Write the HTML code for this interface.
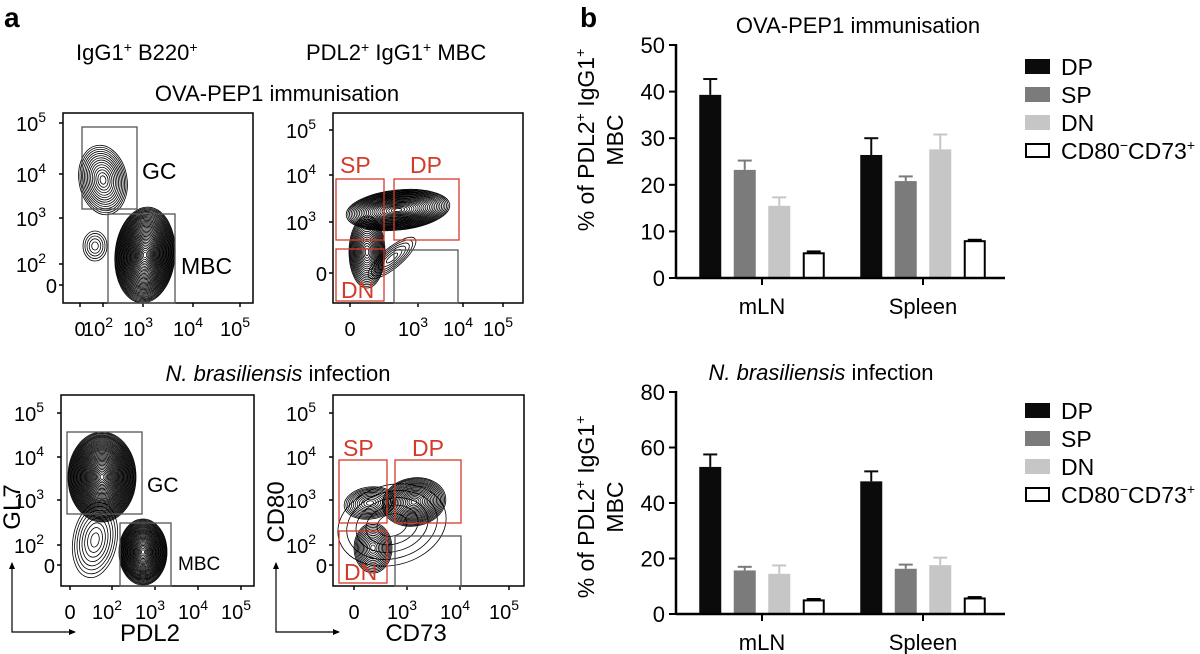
<!DOCTYPE html>
<html><head><meta charset="utf-8"><title>Figure</title>
<style>
html,body{margin:0;padding:0;background:#fff;}
svg{display:block;font-family:"Liberation Sans",Arial,sans-serif;}
</style></head>
<body>
<svg id="fig" width="1200" height="654" viewBox="0 0 1200 654" xmlns="http://www.w3.org/2000/svg">
  <text x="4" y="27" font-size="28" font-weight="bold">a</text>
  <text x="580" y="27" font-size="28" font-weight="bold">b</text>

  <text x="76" y="60" font-size="22">IgG1<tspan dy="-8" font-size="14">+</tspan><tspan dy="8"> B220</tspan><tspan dy="-8" font-size="14">+</tspan></text>
  <text x="306" y="60" font-size="22">PDL2<tspan dy="-8" font-size="14">+</tspan><tspan dy="8"> IgG1</tspan><tspan dy="-8" font-size="14">+</tspan><tspan dy="8"> MBC</tspan></text>
  <text x="277" y="101" font-size="22" text-anchor="middle">OVA-PEP1 immunisation</text>
  <text x="278" y="381" font-size="22" text-anchor="middle"><tspan font-style="italic">N. brasiliensis</tspan> infection</text>

  <g id="flow"></g>
  <g id="bars"></g>
</svg>
<script>
// ---------------- Bar chart data ----------------
const categories = ['mLN', 'Spleen'];
const seriesNames = ['DP', 'SP', 'DN', 'CD80−CD73+'];
const ovaDP = [39.3, 26.4];
const ovaSP = [23.2, 20.8];
const ovaDN = [15.5, 27.6];
const ovaCD = [5.3, 7.9];
const ovaErrDP = [3.4, 3.6];
const ovaErrSP = [2.0, 1.0];
const ovaErrDN = [1.8, 3.2];
const ovaErrCD = [0.4, 0.3];
const ovaTicks = [0, 10, 20, 30, 40, 50];
const nbDP = [53.0, 47.8];
const nbSP = [15.7, 16.3];
const nbDN = [14.5, 17.6];
const nbCD = [4.9, 5.6];
const nbErrDP = [4.5, 3.6];
const nbErrSP = [1.3, 1.5];
const nbErrDN = [3.0, 2.7];
const nbErrCD = [0.5, 0.5];
const nbTicks = [0, 20, 40, 60, 80];

const NS = 'http://www.w3.org/2000/svg';
function mk(tag, attrs, parent) {
  const e = document.createElementNS(NS, tag);
  for (const k in attrs) e.setAttribute(k, attrs[k]);
  parent.appendChild(e);
  return e;
}
const fills = ['#0b0b0b', '#7b7b7b', '#c6c6c6', '#ffffff'];
const barsG = document.getElementById('bars');

function barChart(opt) {
  const g = mk('g', {}, barsG);
  
  
  const x0 = 676, x1 = 1005;
  const yMax = opt.ticks[opt.ticks.length - 1];
  const yScale = v => opt.y0 - (v / yMax) * (opt.y0 - opt.yTop);
  const groupCenters = [762, 923];
  const xScale = (ci, si) => groupCenters[ci] + (si - 1.5) * 34.5;
  const bw = 22;
  const t = mk('text', {x: opt.titleX, y: opt.titleY, 'font-size': 22, 'text-anchor': 'middle'}, g);
  
  
  if (opt.italic) {
    const a = mk('tspan', {'font-style': 'italic'}, t); a.textContent = 'N. brasiliensis';
    const b = mk('tspan', {}, t); b.textContent = ' infection';
  } else t.textContent = opt.title;
  opt.values.forEach((arr, si) => {
    arr.forEach((v, ci) => {
      const cx = xScale(ci, si);
      const top = yScale(v), errTop = yScale(v + opt.errs[si][ci]);
      const col = si === 3 ? '#000' : fills[si];
      const eb = mk('g', {}, g);
      
      
      mk('line', {x1: cx, x2: cx, y1: top, y2: errTop, stroke: col, 'stroke-width': 2}, eb);
      mk('line', {x1: cx - 7, x2: cx + 7, y1: errTop, y2: errTop, stroke: col, 'stroke-width': 2}, eb);
      const r = mk('rect', {x: cx - bw / 2, y: top, width: bw, height: opt.y0 - top, fill: fills[si]}, g);
      if (si === 3) { r.setAttribute('stroke', '#000'); r.setAttribute('stroke-width', 2); r.setAttribute('x', cx - bw / 2 + 1); r.setAttribute('width', bw - 2); }
      
      
    });
  });
  const ax = mk('g', {}, g);
  
  
  mk('line', {x1: x0, x2: x0, y1: opt.yTop - 1, y2: opt.y0 + 1, stroke: '#000', 'stroke-width': 2.5}, ax);
  opt.ticks.forEach(v => {
    const y = yScale(v);
    mk('line', {x1: x0 - 7, x2: x0, y1: y, y2: y, stroke: '#000', 'stroke-width': 2}, ax);
    const tl = mk('text', {x: x0 - 11, y: y + 8, 'font-size': 22, 'text-anchor': 'end'}, ax);
    tl.textContent = v;
    
    
  });
  const xa = mk('g', {}, g);
  
  
  mk('line', {x1: x0, x2: x1, y1: opt.y0, y2: opt.y0, stroke: '#000', 'stroke-width': 2.5}, xa);
  categories.forEach((c, ci) => {
    mk('line', {x1: groupCenters[ci], x2: groupCenters[ci], y1: opt.y0, y2: opt.y0 + 7, stroke: '#000', 'stroke-width': 2}, xa);
    const cl = mk('text', {x: groupCenters[ci], y: opt.y0 + 36, 'font-size': 22, 'text-anchor': 'middle'}, xa);
    cl.textContent = c;
    
    
  });
  const yt = mk('text', {transform: 'translate(' + 594 + ',' + opt.ytY + ') rotate(-90)', 'font-size': 23, 'text-anchor': 'middle'}, g);
  
  
  const l1 = mk('tspan', {x: 0, y: 0}, yt); l1.textContent = '% of PDL2';
  const s1 = mk('tspan', {dy: -9, 'font-size': 14}, yt); s1.textContent = '+';
  const l1b = mk('tspan', {dy: 9}, yt); l1b.textContent = ' IgG1';
  const s2 = mk('tspan', {dy: -9, 'font-size': 14}, yt); s2.textContent = '+';
  const l2 = mk('tspan', {x: 0, y: 29}, yt); l2.textContent = 'MBC';
  const lg = mk('g', {}, g);
  
  
  seriesNames.forEach((s, si) => {
    const ly = opt.legY + si * 28;
    const le = mk('g', {}, lg);
    
    
    const sw = mk('rect', {x: si === 3 ? 1026 : 1025, y: ly + (si === 3 ? 1 : 0), width: si === 3 ? 23 : 25, height: si === 3 ? 13 : 15, fill: fills[si]}, le);
    if (si === 3) { sw.setAttribute('stroke', '#000'); sw.setAttribute('stroke-width', 2); }
    const tx = mk('text', {x: 1061, y: ly + 16, 'font-size': 23}, le);
    if (si === 3) {
      const a = mk('tspan', {}, tx); a.textContent = 'CD80';
      const b = mk('tspan', {dy: -9, 'font-size': 14}, tx); b.textContent = '−';
      const c = mk('tspan', {dy: 9}, tx); c.textContent = 'CD73';
      const d = mk('tspan', {dy: -9, 'font-size': 14}, tx); d.textContent = '+';
    } else tx.textContent = s;
  });
}
barChart({name: 'ova-bar-chart', title: 'OVA-PEP1 immunisation', titleX: 858, titleY: 33, y0: 278, yTop: 45,
  ticks: ovaTicks, values: [ovaDP, ovaSP, ovaDN, ovaCD], errs: [ovaErrDP, ovaErrSP, ovaErrDN, ovaErrCD], ytY: 140, legY: 59});
barChart({name: 'nb-bar-chart', italic: true, titleX: 821, titleY: 380, y0: 614, yTop: 392,
  ticks: nbTicks, values: [nbDP, nbSP, nbDN, nbCD], errs: [nbErrDP, nbErrSP, nbErrDN, nbErrCD], ytY: 507, legY: 403});

// ---------------- Flow plots ----------------
const flowG = document.getElementById('flow');
function sup(t, base, exp) {
  const a = mk('tspan', {}, t); a.textContent = base;
  if (exp) { const b = mk('tspan', {dy: -9, 'font-size': 14}, t); b.textContent = exp; }
}
function blob(g, cx, cy, rx, ry, n, rot) {
  for (let k = 1; k <= n; k++) {
    const f = Math.pow(k / n, 0.8);
    mk('ellipse', {cx: cx, cy: cy, rx: rx * f, ry: ry * f, fill: 'none', stroke: '#000', 'stroke-width': 0.8,
      transform: 'rotate(' + (rot || 0) + ' ' + cx + ' ' + cy + ')'}, g);
  }
}
function flowPlot(o) {
  const g = mk('g', {}, flowG);
  
  
  const cg = mk('g', {}, g);
  
  
  o.blobs.forEach(b => blob(cg, b[0], b[1], b[2], b[3], b[4], b[5]));
  mk('rect', {x: o.x, y: o.y, width: o.w, height: o.h, fill: 'none', stroke: '#000', 'stroke-width': 1.5}, g);
  o.yt.forEach(t => {
    mk('line', {x1: o.x - 4, x2: o.x, y1: t[0], y2: t[0], stroke: '#000', 'stroke-width': 1.5}, g);
    const tx = mk('text', {x: o.x - 6, y: t[0] + 8, 'font-size': 20, 'text-anchor': 'end'}, g);
    
    
    sup(tx, t[1], t[2]);
    if (t[2]) tx.setAttribute('x', o.x - 17);
  });
  o.xt.forEach(t => {
    mk('line', {x1: t[0], x2: t[0], y1: o.y + o.h, y2: o.y + o.h + 4, stroke: '#000', 'stroke-width': 1.5}, g);
    const tx = mk('text', {x: t[0] - (t[2] ? 5 : 0), y: o.y + o.h + 33, 'font-size': 20, 'text-anchor': 'middle'}, g);
    
    
    sup(tx, t[1], t[2]);
  });
  o.gates.forEach(gt => {
    const r = mk('rect', {x: gt[0], y: gt[1], width: gt[2] - gt[0], height: gt[3] - gt[1], fill: 'none', stroke: gt[4], 'stroke-width': 1.3}, g);
    
    
  });
  o.labels.forEach(l => {
    const t = mk('text', {x: l[0], y: l[1], 'font-size': l[4] || 23, fill: l[3]}, g);
    t.textContent = l[2];
    
    
  });
}
const red = '#d43a2a', gry = '#555';
flowPlot({name: 'ova-gc-mbc-plot', x: 63, y: 113, w: 190, h: 190,
  yt: [[123, '10', '5'], [174, '10', '4'], [218, '10', '3'], [264, '10', '2'], [285, '0']],
  xt: [[80, '0'], [103, '10', '2'], [143, '10', '3'], [193, '10', '4'], [240, '10', '5']],
  gates: [[82, 127, 137, 209, gry], [108, 214, 175, 303, gry]],
  labels: [[142, 179, 'GC', '#000'], [181, 274, 'MBC', '#000']],
  blobs: [[103, 180, 24, 35, 14, -10], [145, 255, 30, 48, 36, 5], [95, 246, 12, 15, 5, 0]]});
flowPlot({name: 'ova-cd80-cd73-plot', x: 333, y: 113, w: 190, h: 190,
  yt: [[130, '10', '5'], [175, '10', '4'], [222, '10', '3'], [273, '0']],
  xt: [[350, '0'], [418, '10', '3'], [463, '10', '4'], [503, '10', '5']],
  gates: [[336, 179, 384, 240, red], [394, 179, 459, 240, red], [336, 249, 384, 301, red], [394, 250, 458, 303, gry]],
  labels: [[340, 173, 'SP', red], [410, 173, 'DP', red], [341, 298, 'DN', red]],
  blobs: [[398, 210, 52, 20, 26, -6], [367, 252, 18, 36, 18, 0], [392, 258, 30, 10, 6, -40]]});
flowPlot({name: 'nb-gc-mbc-plot', x: 61, y: 395, w: 193, h: 191,
  yt: [[413, '10', '5'], [457, '10', '4'], [500, '10', '3'], [545, '10', '2'], [565, '0']],
  xt: [[70, '0'], [112, '10', '2'], [155, '10', '3'], [198, '10', '4'], [241, '10', '5']],
  gates: [[67, 432, 142, 514, gry], [120, 523, 171, 586, gry]],
  labels: [[147, 492, 'GC', '#000', 21], [178, 570, 'MBC', '#000', 19]],
  blobs: [[102, 477, 34, 45, 38, 0], [143, 552, 24, 33, 30, 0], [95, 540, 22, 38, 8, 10]]});
flowPlot({name: 'nb-cd80-cd73-plot', x: 333, y: 395, w: 191, h: 191,
  yt: [[413, '10', '5'], [457, '10', '4'], [500, '10', '3'], [545, '10', '2'], [565, '0']],
  xt: [[354, '0'], [407, '10', '3'], [460, '10', '4'], [509, '10', '5']],
  gates: [[339, 460, 387, 523, red], [395, 460, 461, 523, red], [339, 531, 387, 583, red], [395, 536, 461, 586, gry]],
  labels: [[343, 456, 'SP', red], [412, 456, 'DP', red], [344, 580, 'DN', red]],
  blobs: [[414, 502, 32, 24, 20, -10], [370, 503, 26, 16, 12, -8], [373, 548, 19, 25, 14, 0], [392, 525, 55, 40, 5, -15]]});

const at = mk('g', {}, flowG);


function rotText(x, y, s, name) {
  const t = mk('text', {transform: 'translate(' + x + ',' + y + ') rotate(-90)', 'font-size': 24, 'text-anchor': 'middle'}, at);
  t.textContent = s;
  
  
}
function hText(x, y, s, name) {
  const t = mk('text', {x: x, y: y, 'font-size': 24, 'text-anchor': 'middle'}, at);
  t.textContent = s;
  
  
}
rotText(20, 507, 'GL7', 'y-axis-title-gl7');
rotText(284, 512, 'CD80', 'y-axis-title-cd80');
hText(150, 641, 'PDL2', 'x-axis-title-pdl2');
hText(416, 641, 'CD73', 'x-axis-title-cd73');
function arrows(x0, x1) {
  mk('path', {d: 'M' + x0 + ' 563 L' + x0 + ' 632 L' + x1 + ' 632', fill: 'none', stroke: '#000', 'stroke-width': 1.2}, at);
  mk('path', {d: 'M' + (x0 - 3) + ' 569 L' + x0 + ' 562 L' + (x0 + 3) + ' 569 Z', fill: '#000'}, at);
  mk('path', {d: 'M' + (x1 - 6) + ' 629 L' + (x1 + 1) + ' 632 L' + (x1 - 6) + ' 635 Z', fill: '#000'}, at);
}
arrows(12, 75);
arrows(276, 339);
</script>
</body></html>
